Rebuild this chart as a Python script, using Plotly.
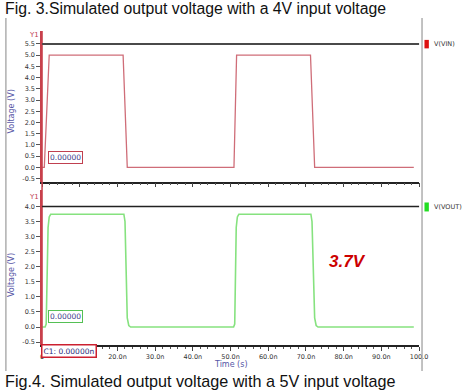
import plotly.graph_objects as go

W, H = 474, 391

# ---- data (time in ns, voltage in V) ----
t_vin = [0.0, 0.6, 1.9, 21.5, 22.6, 50.9, 51.6, 71.2, 72.3, 98.6]
v_vin = [0.0, 0.0, 5.0, 5.0, 0.0, 0.0, 5.0, 5.0, 0.0, 0.0]

t_vout = [0.0, 0.8, 1.1, 1.6, 1.9, 2.3, 21.7, 22.0, 22.6, 23.0, 23.5,
          50.8, 51.1, 51.5, 51.8, 52.2, 71.3, 71.6, 72.3, 72.7, 73.2, 98.6]
v_vout = [0.0, 0.0, 0.1, 3.3, 3.65, 3.74, 3.74, 3.5, 0.3, 0.05, 0.0,
          0.0, 0.1, 3.3, 3.65, 3.74, 3.74, 3.5, 0.3, 0.05, 0.0, 0.0]

x_ticks = [0, 10, 20, 30, 40, 50, 60, 70, 80, 90, 100]
x_ticktext = ["0", "", "20.0n", "30.0n", "40.0n", "50.0n", "60.0n",
              "70.0n", "80.0n", "90.0n", "100.0"]
y1_ticks = [-0.5, 0.0, 0.5, 1.0, 1.5, 2.0, 2.5, 3.0, 3.5, 4.0, 4.5, 5.0, 5.5]
y2_ticks = [-0.5, 0.0, 0.5, 1.0, 1.5, 2.0, 2.5, 3.0, 3.5, 4.0]

title_top = "Fig. 3.Simulated output voltage with a 4V input voltage"
title_bottom = "Fig.4. Simulated output voltage with a 5V input voltage"

VIN_C = "#cf6d78"
VOUT_C = "#86e27f"
AX_RED = "#c8404c"
TXT = "#333333"
LBL = "#5656a6"


def px(x):
    return x / W


def py(y):
    return 1 - y / H


fig = go.Figure()
fig.add_trace(go.Scatter(x=t_vin, y=v_vin, mode="lines", line=dict(color=VIN_C, width=1.3),
                         xaxis="x2", yaxis="y", showlegend=False, hoverinfo="skip"))
fig.add_trace(go.Scatter(x=t_vout, y=v_vout, mode="lines", line=dict(color=VOUT_C, width=1.6),
                         xaxis="x", yaxis="y2", showlegend=False, hoverinfo="skip"))

xdom = [px(41), px(427)]
tickfont = dict(family="DejaVu Sans", size=6.5, color=TXT)

common_x = dict(range=[0, 100], domain=xdom, showgrid=False, zeroline=False,
                showline=True, linecolor="#222222", linewidth=1.5,
                ticks="outside", ticklen=4, tickcolor="#444444", tickwidth=1,
                tickvals=x_ticks, minor=dict(dtick=2, ticks="outside", ticklen=2, tickcolor="#555555"))

fig.update_layout(
    width=W, height=H, margin=dict(l=0, r=0, t=0, b=0),
    paper_bgcolor="white", plot_bgcolor="white",
    xaxis=dict(**common_x, anchor="y2", ticktext=x_ticktext, tickfont=tickfont),
    xaxis2=dict(**common_x, anchor="y", showticklabels=False),
    yaxis=dict(domain=[py(182), py(31)], range=[-0.63, 6.08], anchor="x2",
               showgrid=False, zeroline=False, showline=True, linecolor=AX_RED, linewidth=1.5,
               ticks="outside", ticklen=4, tickcolor="#555555", tickvals=y1_ticks,
               ticktext=[f"{v:.1f}" for v in y1_ticks], tickfont=tickfont),
    yaxis2=dict(domain=[py(346), py(190)], range=[-0.6, 4.56], anchor="x",
                showgrid=False, zeroline=False, showline=True, linecolor=AX_RED, linewidth=1.5,
                ticks="outside", ticklen=4, tickcolor="#555555", tickvals=y2_ticks,
                ticktext=[f"{v:.1f}" for v in y2_ticks], tickfont=tickfont),
)

shapes = []
# frame lines
shapes.append(dict(type="line", xref="paper", yref="paper", x0=px(4), x1=px(4), y0=py(18), y1=py(372),
                   line=dict(color="#9a9a9a", width=1.2)))
shapes.append(dict(type="line", xref="paper", yref="paper", x0=px(430), x1=px(430), y0=py(18), y1=py(372),
                   line=dict(color="#9a9a9a", width=1.2)))
# continuous red axis
shapes.append(dict(type="line", xref="paper", yref="paper", x0=px(41), x1=px(41), y0=py(31), y1=py(346),
                   line=dict(color=AX_RED, width=1.5)))
# horizontal reference lines
shapes.append(dict(type="line", xref="x2", yref="y", x0=0, x1=100.3, y0=5.5, y1=5.5,
                   line=dict(color="#4a4a4a", width=2)))
shapes.append(dict(type="line", xref="x", yref="y2", x0=0, x1=100.3, y0=4.0, y1=4.0,
                   line=dict(color="#222222", width=1.5)))
# legend swatches
shapes.append(dict(type="rect", xref="paper", yref="paper", x0=px(432.5), x1=px(437), y0=py(48.5), y1=py(40),
                   fillcolor="#dd1111", line=dict(width=0)))
shapes.append(dict(type="rect", xref="paper", yref="paper", x0=px(432.5), x1=px(437), y0=py(212), y1=py(203),
                   fillcolor="#22dd22", line=dict(width=0)))
fig.update_layout(shapes=shapes)

ann = []
ann.append(dict(text=title_top, xref="paper", yref="paper", x=px(1), y=py(9), xanchor="left", yanchor="middle",
                showarrow=False, font=dict(family="Liberation Sans, Arial", size=15.8, color="#111111")))
ann.append(dict(text=title_bottom, xref="paper", yref="paper", x=px(1), y=py(382), xanchor="left", yanchor="middle",
                showarrow=False, font=dict(family="Liberation Sans, Arial", size=16.2, color="#111111")))
for yy in (35, 198):
    ann.append(dict(text="Y1", xref="paper", yref="paper", x=px(39.5), y=py(yy), xanchor="right", yanchor="middle",
                    showarrow=False, font=dict(family="DejaVu Sans", size=7, color="#c04050")))
for yy in (112, 276):
    ann.append(dict(text="Voltage (V)", xref="paper", yref="paper", x=px(10), y=py(yy), xanchor="center",
                    yanchor="middle", textangle=-90, showarrow=False,
                    font=dict(family="DejaVu Sans", size=8, color=LBL)))
ann.append(dict(text="Time (s)", xref="paper", yref="paper", x=px(234), y=py(365), xanchor="center",
                yanchor="middle", showarrow=False, font=dict(family="DejaVu Sans", size=8, color=LBL)))
ann.append(dict(text="V(VIN)", xref="paper", yref="paper", x=px(440), y=py(44.5), xanchor="left", yanchor="middle",
                showarrow=False, font=dict(family="DejaVu Sans", size=6.5, color=TXT)))
ann.append(dict(text="V(VOUT)", xref="paper", yref="paper", x=px(440), y=py(207.5), xanchor="left",
                yanchor="middle", showarrow=False, font=dict(family="DejaVu Sans", size=6.5, color=TXT)))
# value boxes
ann.append(dict(text="0.00000", xref="paper", yref="paper", x=px(65), y=py(157.5), xanchor="center",
                yanchor="middle", showarrow=False, bgcolor="white", bordercolor="#c04050", borderwidth=1,
                borderpad=1, font=dict(family="DejaVu Sans", size=7.5, color="#3a3a8a")))
ann.append(dict(text="0.00000", xref="paper", yref="paper", x=px(64.5), y=py(317.5), xanchor="center",
                yanchor="middle", showarrow=False, bgcolor="white", bordercolor="#55c055", borderwidth=1,
                borderpad=1, font=dict(family="DejaVu Sans", size=7.5, color="#3a3a8a")))
ann.append(dict(text="C1: 0.00000n", xref="paper", yref="paper", x=px(68.5), y=py(352.3), xanchor="center",
                yanchor="middle", showarrow=False, bgcolor="white", bordercolor="#cc2030", borderwidth=1.5,
                borderpad=1, font=dict(family="DejaVu Sans", size=7.5, color="#2a2a7a")))
ann.append(dict(text="<b><i>3.7V</i></b>", xref="paper", yref="paper", x=px(354), y=py(262), xanchor="center",
                yanchor="middle", showarrow=False,
                font=dict(family="Liberation Sans, Arial", size=17, color="#cc0000")))
fig.update_layout(annotations=ann)

fig.write_html("out.html", config={"displayModeBar": False},
               post_script="document.body.style.margin='0px';document.body.style.overflow='hidden';")
